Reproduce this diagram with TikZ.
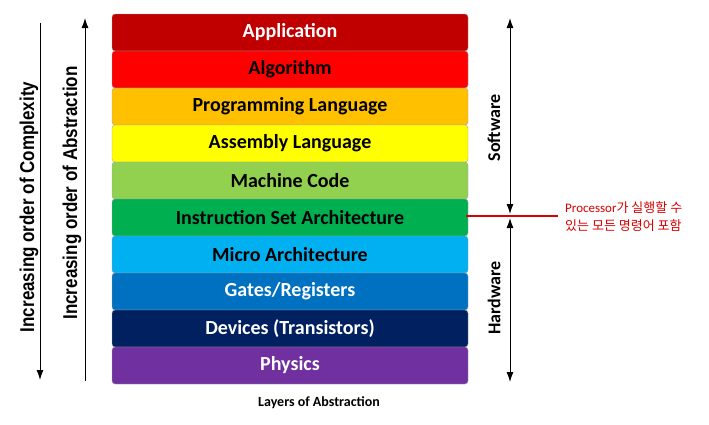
\documentclass[tikz,border=0pt]{standalone}
\usepackage{fontspec}
\usetikzlibrary{arrows.meta}
\setmainfont{Carlito}
\newfontfamily\arialf{Liberation Sans}
\newfontfamily\cjk{Noto Sans CJK KR}
\begin{document}
\begin{tikzpicture}[x=1pt,y=-1pt,
  tip/.style={Latex[length=10pt,width=7pt]},
  layer/.style={draw=gray!70,rounded corners=3pt,minimum width=356pt,minimum height=37pt,inner sep=0pt,font=\fontsize{20}{22}\selectfont\bfseries},
  vlab/.style={rotate=90,font=\arialf\fontsize{20}{22}\selectfont},
  arr/.style={-{Latex[length=10pt,width=7pt]},line width=1pt}]
\useasboundingbox (0,0) rectangle (709,424);
\definecolor{c1}{HTML}{C00000}\definecolor{c2}{HTML}{FF0000}\definecolor{c3}{HTML}{FFC000}
\definecolor{c4}{HTML}{FFFF00}\definecolor{c5}{HTML}{92D050}\definecolor{c6}{HTML}{00B050}
\definecolor{c7}{HTML}{00B0F0}\definecolor{c8}{HTML}{0070C0}\definecolor{c9}{HTML}{002060}
\definecolor{c10}{HTML}{7030A0}
\node[layer,fill=c1,text=white] (l1) at (290,32.5) {Application};
\node[layer,fill=c2] (l2) at (290,69.5) {Algorithm};
\node[layer,fill=c3] (l3) at (290,106.5) {Programming Language};
\node[layer,fill=c4] (l4) at (290,143.5) {Assembly Language};
\node[layer,fill=c5] (l5) at (290,180.5) {Machine Code};
\node[layer,fill=c6] (l6) at (290,217.5) {Instruction Set Architecture};
\node[layer,fill=c7] (l7) at (290,254.5) {Micro Architecture};
\node[layer,fill=c8,text=white] (l8) at (290,291.5) {Gates/Registers};
\node[layer,fill=c9,text=white] (l9) at (290,328.5) {Devices (Transistors)};
\node[layer,fill=c10,text=white] (l10) at (290,365.5) {Physics};
\node[font=\fontsize{14}{16}\selectfont] (cap) at (319,403) {\textbf{Layers of Abstraction}};
\coordinate (a1) at (40,23); \coordinate (a2) at (40,380);
\draw[arr] (a1) -- (a2);
\coordinate (b1) at (85,381); \coordinate (b2) at (85,18);
\draw[arr] (b1) -- (b2);
\node[vlab] (t1) at (29,207) {\scalebox{0.85}[1]{\textbf{Increasing order of Complexity}}};
\node[vlab] (t2) at (72,193) {\scalebox{0.85}[1]{\textbf{Increasing order of Abstraction}}};
\coordinate (s1) at (510,18); \coordinate (s2) at (510,214);
\draw[{Latex[length=10pt,width=7pt]}-{Latex[length=10pt,width=7pt]},line width=1pt] (s1) -- (s2);
\coordinate (h1) at (510,218); \coordinate (h2) at (510,382);
\draw[{Latex[length=10pt,width=7pt]}-{Latex[length=10pt,width=7pt]},line width=1pt] (h1) -- (h2);
\node[rotate=90,fill=white,inner sep=2pt,font=\fontsize{18}{20}\selectfont] (sw) at (494,128) {\textbf{Software}};
\node[rotate=90,fill=white,inner sep=2pt,font=\fontsize{18}{20}\selectfont] (hw) at (494,298) {\textbf{Hardware}};
\coordinate (r1) at (466,216); \coordinate (r2) at (558,216);
\draw[red!85!black,line width=2.5pt] (r1) -- (r2);
\node[anchor=west,text=red!85!black,align=left,font=\fontsize{13}{18}\selectfont,inner sep=0pt] (note) at (565,217) {Processor{\cjk 가 실행할 수}\\{\cjk 있는 모든 명령어 포함}};
\end{tikzpicture}
\end{document}
